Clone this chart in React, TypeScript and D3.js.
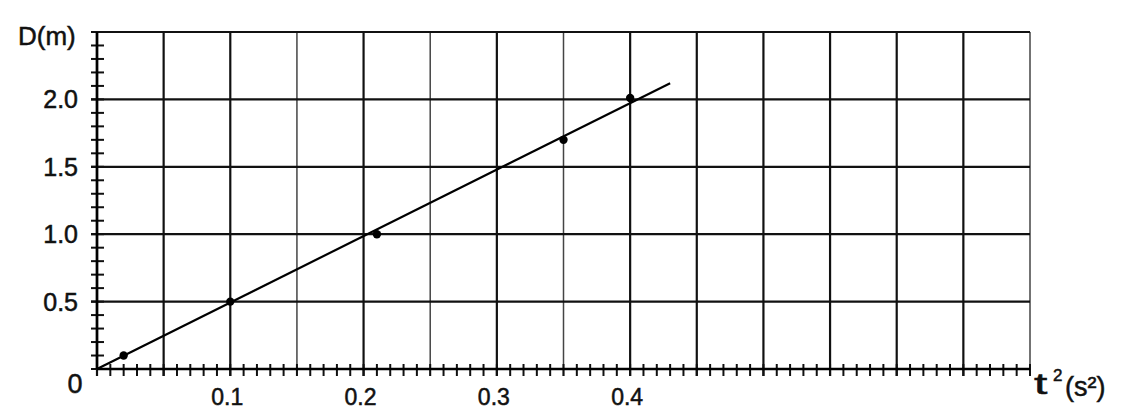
import React from "react";
import * as d3 from "d3";

const xGridValues = [0, 0.05, 0.1, 0.15, 0.2, 0.25, 0.3, 0.35, 0.4, 0.45, 0.5, 0.55, 0.6, 0.65, 0.7];
const yGridValues = [0, 0.5, 1.0, 1.5, 2.0, 2.5];
const xTickLabels = ["0.1", "0.2", "0.3", "0.4"];
const xTickValues = [0.1, 0.2, 0.3, 0.4];
const yTickLabels = ["0.5", "1.0", "1.5", "2.0"];
const yTickValues = [0.5, 1.0, 1.5, 2.0];
const tSquared = [0.02, 0.1, 0.21, 0.35, 0.4];
const distance = [0.1, 0.5, 1.0, 1.7, 2.01];
const fitT = [0, 0.43];
const fitD = [0, 2.12];

const W = 1144;
const H = 411;

export default function App() {
  const x = d3.scaleLinear().domain([0, 0.7]).range([97, 1030]);
  const y = d3.scaleLinear().domain([0, 2.5]).range([369, 32]);
  const xMinor = d3.range(0, 71).map((i) => i / 100);
  const yMinor = d3.range(0, 26).map((i) => i / 10);
  const lineGen = d3
    .line<number>()
    .x((_, i) => x(fitT[i]))
    .y((d) => y(d));
  const font = "'Liberation Sans', Arial, sans-serif";
  const thin = new Set([0.15, 0.25, 0.35, 0.7]);
  const textStyle = { stroke: "#111", strokeWidth: 0.5 };
  return (
    <svg
      width={W}
      height={H}
      style={{ position: "absolute", left: 0, top: 0, background: "#fff" }}
    >
      {/* vertical grid */}
      {xGridValues.map((v) => (
        <line
          key={"vx" + v}
          x1={x(v)}
          x2={x(v)}
          y1={y(2.5)}
          y2={y(0) + 7}
          stroke={thin.has(v) ? "#444" : "#111"}
          strokeWidth={thin.has(v) ? 1.5 : 2.2}
        />
      ))}
      {/* horizontal grid */}
      {yGridValues.map((v) => (
        <line
          key={"hy" + v}
          x1={x(0) - 6}
          x2={x(0.7)}
          y1={y(v)}
          y2={y(v)}
          stroke="#111"
          strokeWidth={2.2}
        />
      ))}
      {/* x minor ticks */}
      {xMinor.map((v) => (
        <line
          key={"mx" + v}
          x1={x(v)}
          x2={x(v)}
          y1={y(0) - 5}
          y2={y(0) + 7}
          stroke="#111"
          strokeWidth={2}
        />
      ))}
      {/* y minor ticks */}
      {yMinor.map((v) => (
        <line
          key={"my" + v}
          x1={x(0) - 6}
          x2={x(0) + 7}
          y1={y(v)}
          y2={y(v)}
          stroke="#111"
          strokeWidth={2}
        />
      ))}
      {/* axes heavier */}
      <line x1={x(0)} x2={x(0)} y1={y(2.5)} y2={y(0)} stroke="#000" strokeWidth={2.6} />
      <line x1={x(0)} x2={x(0.7)} y1={y(0)} y2={y(0)} stroke="#000" strokeWidth={2.6} />
      {/* fit line */}
      <path d={lineGen(fitD) || ""} fill="none" stroke="#000" strokeWidth={2.2} />
      {/* data points */}
      {tSquared.map((t, i) => (
        <circle key={"p" + i} cx={x(t)} cy={y(distance[i])} r={4.2} fill="#000" />
      ))}
      {/* y labels */}
      {yTickValues.map((v, i) => (
        <text
          key={"yl" + v}
          x={78}
          y={y(v) + 9}
          textAnchor="end"
          fontFamily={font}
          fontSize={25}
          fill="#111"
          style={textStyle}
        >
          {yTickLabels[i]}
        </text>
      ))}
      <text x={75} y={393} textAnchor="middle" fontFamily={font} fontSize={27} fill="#111" style={textStyle}>
        0
      </text>
      {/* x labels */}
      {xTickValues.map((v, i) => (
        <text
          key={"xl" + v}
          x={x(v) - 3}
          y={405}
          textAnchor="middle"
          fontFamily={font}
          fontSize={23}
          fill="#111"
          style={textStyle}
        >
          {xTickLabels[i]}
        </text>
      ))}
      {/* axis titles */}
      <text x={18} y={45} fontFamily={font} fontSize={26} fill="#111" style={textStyle}>
        D(m)
      </text>
      <text
        x={1034}
        y={394}
        fontFamily={font}
        fontSize={30}
        fill="#111"
        style={textStyle}
        transform="translate(1034,0) scale(1.6,1) translate(-1034,0)"
      >
        t
      </text>
      <text x={1053} y={381} fontFamily={font} fontSize={17} fill="#111" style={textStyle}>
        2
      </text>
      <text x={1065} y={396} fontFamily={font} fontSize={27} fill="#111" style={textStyle}>
        (s²)
      </text>
    </svg>
  );
}
